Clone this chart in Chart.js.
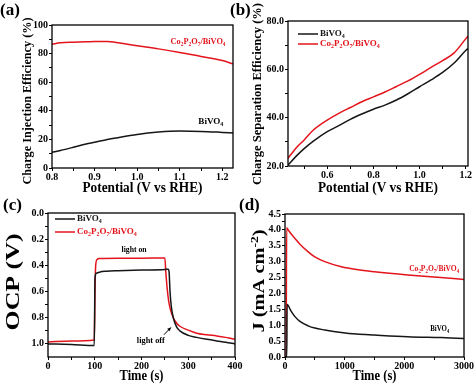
<!DOCTYPE html>
<html>
<head>
<meta charset="utf-8">
<script src="https://cdn.jsdelivr.net/npm/chart.js@4.4.0/dist/chart.umd.min.js"></script>
<style>
  html, body { margin: 0; padding: 0; background: #fff; }
  #wrap { position: relative; width: 474px; height: 385px; }
  #wrap canvas { position: absolute; left: 0; top: 0; }
</style>
</head>
<body>
<div id="wrap">
  <canvas id="pa" width="474" height="385"></canvas>
  <canvas id="pb" width="474" height="385"></canvas>
  <canvas id="pc" width="474" height="385"></canvas>
  <canvas id="pd" width="474" height="385"></canvas>
</div>
<script>
// (a) charge injection efficiency
const aPotential = [0.80, 0.82, 0.85, 0.88, 0.90, 0.93, 0.95, 1.00, 1.05, 1.10, 1.15, 1.20, 1.225];
const aBiVO4     = [11.0, 12.3, 14.5, 16.8, 18.0, 19.9, 21.0, 23.5, 25.1, 25.8, 25.6, 24.9, 24.5];
const aCoPO      = [86.5, 87.6, 88.0, 88.2, 88.5, 88.5, 87.8, 85.5, 83.3, 80.8, 78.0, 75.2, 72.8];
const aXMajor = [0.8, 0.9, 1.0, 1.1, 1.2], aXMinor = [0.85, 0.95, 1.05, 1.15];
const aYMajor = [0, 20, 40, 60, 80, 100], aYMinor = [10, 30, 50, 70, 90];

// (b) charge separation efficiency
const bPotential = [0.43, 0.47, 0.50, 0.54, 0.60, 0.65, 0.70, 0.75, 0.80, 0.85, 0.90, 0.95, 1.00, 1.05, 1.10, 1.15, 1.20, 1.21];
const bBiVO4     = [20.4, 24.5, 27.2, 30.3, 34.2, 36.7, 39.3, 41.5, 43.5, 45.2, 47.3, 49.9, 52.8, 55.6, 58.7, 62.6, 67.8, 68.6];
const bCoPO      = [23.2, 28.0, 30.8, 34.9, 39.0, 41.8, 44.2, 46.6, 48.6, 50.6, 52.9, 55.2, 57.9, 60.8, 63.6, 66.8, 72.6, 73.8];
const bXMajor = [0.6, 0.8, 1.0, 1.2], bXMinor = [0.5, 0.7, 0.9, 1.1];
const bYMajor = [20, 40, 60, 80], bYMinor = [30, 50, 70];

// (c) open circuit potential
const cTimeBi = [0, 50, 99, 100.5, 103, 110, 125, 150, 200, 250, 257, 259, 261, 264, 268, 275, 282, 300, 318, 340, 361, 380, 400];
const cBiVO4  = [1.0, 1.005, 1.012, 0.50, 0.462, 0.452, 0.445, 0.441, 0.436, 0.431, 0.429, 0.45, 0.60, 0.72, 0.80, 0.87, 0.90, 0.935, 0.95, 0.965, 0.977, 0.987, 1.0];
const cTimeCo = [0, 50, 99, 100.5, 102, 105, 110, 150, 200, 250, 252, 255, 258, 262, 268, 275, 282, 300, 318, 340, 361, 380, 396, 400];
const cCoPO   = [0.985, 0.978, 0.97, 0.60, 0.40, 0.355, 0.347, 0.345, 0.345, 0.344, 0.45, 0.58, 0.67, 0.74, 0.80, 0.84, 0.865, 0.895, 0.918, 0.93, 0.939, 0.95, 0.962, 0.963];
const cXMajor = [0, 100, 200, 300, 400], cXMinor = [50, 150, 250, 350];
const cYMajor = [0, 0.2, 0.4, 0.6, 0.8, 1.0], cYMinor = [0.1, 0.3, 0.5, 0.7, 0.9];

// (d) photocurrent stability
const dTimeBi = [0, 30, 35, 100, 167, 250, 389, 500, 667, 944, 1200, 1500, 2056, 2611, 3000];
const dBiVO4  = [0, 0, 1.65, 1.45, 1.27, 1.12, 0.98, 0.91, 0.85, 0.77, 0.72, 0.69, 0.64, 0.61, 0.585];
const dTimeCo = [0, 18, 28, 60, 100, 167, 250, 389, 500, 667, 944, 1200, 1500, 2056, 2611, 3000];
const dCoPO   = [0, 0, 4.07, 3.98, 3.88, 3.73, 3.55, 3.31, 3.15, 3.0, 2.84, 2.75, 2.68, 2.58, 2.50, 2.44];
const dXMajor = [0, 1000, 2000, 3000], dXMinor = [500, 1500, 2500];
const dYMajor = [0, 0.5, 1.0, 1.5, 2.0, 2.5, 3.0, 3.5, 4.0, 4.5], dYMinor = [0.25, 0.75, 1.25, 1.75, 2.25, 2.75, 3.25, 3.75, 4.25];

const RED = '#e3141c', BLK = '#161616';
const FONT = '"Liberation Serif", "Times New Roman", serif';
const CO = [['Co'], ['2', 'sub'], ['P'], ['2', 'sub'], ['O'], ['7', 'sub'], ['/BiVO'], ['4', 'sub']];
const BI = [['BiVO'], ['4', 'sub']];

function zip(xs, ys) { return xs.map((x, i) => ({ x, y: ys[i] })); }

// text with sub/superscripts, optionally squeezed to a width
function rich(ctx, parts, x, y, size, opt = {}) {
  const small = size * 0.66;
  ctx.save();
  ctx.translate(x, y);
  if (opt.rot) ctx.rotate(opt.rot);
  let w = 0;
  const ws = parts.map(([t, k]) => {
    ctx.font = `bold ${k ? small : size}px ${FONT}`;
    const m = ctx.measureText(t).width; w += m; return m;
  });
  if (opt.fit) ctx.scale(opt.fit / w, 1);
  let cx = opt.align === 'left' ? 0 : opt.align === 'right' ? -w : -w / 2;
  ctx.fillStyle = opt.color || '#000';
  ctx.textBaseline = 'middle';
  ctx.textAlign = 'left';
  parts.forEach(([t, k], i) => {
    ctx.font = `bold ${k ? small : size}px ${FONT}`;
    const dy = k === 'sub' ? size * 0.3 : k === 'sup' ? -size * 0.32 : 0;
    ctx.fillText(t, cx, dy);
    cx += ws[i];
  });
  ctx.restore();
}

const frame = {
  id: 'frame',
  afterDraw(chart) {
    const { ctx, chartArea: a } = chart;
    ctx.save();
    ctx.strokeStyle = '#000';
    ctx.lineWidth = 1.3;
    ctx.strokeRect(a.left, a.top, a.right - a.left, a.bottom - a.top);
    ctx.restore();
  }
};

function axis(s, dir, box) {
  return {
    type: 'linear', min: s.min, max: s.max, reverse: !!s.reverse,
    afterBuildTicks: sc => { sc.ticks = s.major.concat(s.minor).sort((p, q) => p - q).map(v => ({ value: v })); },
    afterFit: sc => { if (dir === 'y') sc.width = box.left; else sc.height = 20; },
    grid: { drawOnChartArea: false, drawTicks: true, tickLength: 3, tickColor: '#000', tickWidth: 1 },
    border: { display: false },
    ticks: {
      autoSkip: false, maxRotation: 0, padding: dir === 'y' ? 1 : 0, color: '#000',
      font: { family: FONT, size: 10, weight: 'bold' },
      callback: v => s.major.some(m => Math.abs(m - v) < 1e-9) ? s.fmt(v) : ''
    }
  };
}

function line(data, color) {
  return { data, borderColor: color, borderWidth: 1.5, pointRadius: 0, fill: false, cubicInterpolationMode: 'monotone' };
}

function panel(id, box, xs, ys, datasets, draw) {
  return new Chart(document.getElementById(id), {
    type: 'line',
    data: { datasets },
    options: {
      responsive: false, animation: false, events: [],
      layout: { padding: { left: 0, top: box.top, right: 474 - box.right, bottom: 385 - box.bottom - 20 } },
      plugins: { legend: { display: false }, tooltip: { enabled: false } },
      scales: { x: axis(xs, 'x', box), y: axis(ys, 'y', box) }
    },
    plugins: [frame, { id: 'notes', afterDraw: c => draw(c.ctx, c.chartArea, c.scales.x, c.scales.y) }]
  });
}

const UP = -Math.PI / 2;

panel('pa', { left: 52, right: 233, top: 25, bottom: 168 },
  { min: 0.8, max: 1.225, major: aXMajor, minor: aXMinor, fmt: v => v.toFixed(1) },
  { min: 0, max: 100, major: aYMajor, minor: aYMinor, fmt: v => String(v) },
  [line(zip(aPotential, aBiVO4), BLK), line(zip(aPotential, aCoPO), RED)],
  (ctx, a, x, y) => {
    rich(ctx, [['(a)']], 0, 11, 17, { align: 'left' });
    rich(ctx, [['Charge Injection Efficiency (%)']], 28, 101, 13, { rot: UP, fit: 167 });
    rich(ctx, [['Potential (V vs RHE)']], (a.left + a.right) / 2, 188, 15, { fit: 120 });
    rich(ctx, CO, x.getPixelForValue(1.143), y.getPixelForValue(88.3), 9, { color: RED, fit: 55 });
    rich(ctx, BI, x.getPixelForValue(1.173), y.getPixelForValue(32.4), 9, { fit: 25 });
  });

panel('pb', { left: 288, right: 468, top: 21, bottom: 166 },
  { min: 0.43, max: 1.21, major: bXMajor, minor: bXMinor, fmt: v => v.toFixed(1) },
  { min: 20, max: 80, major: bYMajor, minor: bYMinor, fmt: v => v.toFixed(1) },
  [line(zip(bPotential, bBiVO4), BLK), line(zip(bPotential, bCoPO), RED)],
  (ctx, a, x, y) => {
    rich(ctx, [['(b)']], 230, 11, 17, { align: 'left' });
    rich(ctx, [['Charge Separation Efficiency (%)']], 258, 94, 13, { rot: UP, fit: 182 });
    rich(ctx, [['Potential (V vs RHE)']], (a.left + a.right) / 2, 188, 15, { fit: 120 });
    [[BI, BLK, 13], [CO, RED, 23]].forEach(([t, c, dy]) => {
      ctx.save(); ctx.strokeStyle = c; ctx.lineWidth = 1.5;
      ctx.beginPath(); ctx.moveTo(a.left + 10, a.top + dy); ctx.lineTo(a.left + 30, a.top + dy); ctx.stroke();
      ctx.restore();
      rich(ctx, t, a.left + 32, a.top + dy, 9, { align: 'left', color: c });
    });
  });

panel('pc', { left: 48, right: 235, top: 213, bottom: 357 },
  { min: 0, max: 400, major: cXMajor, minor: cXMinor, fmt: v => String(v) },
  { min: 0, max: 1.1, reverse: true, major: cYMajor, minor: cYMinor, fmt: v => v.toFixed(1) },
  [line(zip(cTimeBi, cBiVO4), BLK), line(zip(cTimeCo, cCoPO), RED)],
  (ctx, a, x, y) => {
    rich(ctx, [['(c)']], 3, 206, 17, { align: 'left' });
    rich(ctx, [['OCP (V)']], 14, 282, 18, { rot: UP, fit: 97 });
    rich(ctx, [['Time (s)']], (a.left + a.right) / 2, 376, 14, { fit: 44 });
    [[BI, BLK, 6], [CO, RED, 19]].forEach(([t, c, dy]) => {
      ctx.save(); ctx.strokeStyle = c; ctx.lineWidth = 1.5;
      ctx.beginPath(); ctx.moveTo(a.left + 7, a.top + dy); ctx.lineTo(a.left + 27, a.top + dy); ctx.stroke();
      ctx.restore();
      rich(ctx, t, a.left + 29, a.top + dy, 9, { align: 'left', color: c });
    });
    rich(ctx, [['light on']], x.getPixelForValue(184), y.getPixelForValue(0.282), 9, { fit: 25 });
    rich(ctx, [['light off']], x.getPixelForValue(220), y.getPixelForValue(0.977), 9, { fit: 28 });
    const x0 = x.getPixelForValue(248), y0 = y.getPixelForValue(0.93);
    const x1 = x.getPixelForValue(263), y1 = y.getPixelForValue(0.874);
    ctx.save(); ctx.strokeStyle = '#000'; ctx.fillStyle = '#000'; ctx.lineWidth = 1;
    ctx.beginPath(); ctx.moveTo(x0, y0); ctx.lineTo(x1, y1); ctx.stroke();
    const ang = Math.atan2(y1 - y0, x1 - x0);
    ctx.beginPath(); ctx.moveTo(x1, y1);
    ctx.lineTo(x1 - 4 * Math.cos(ang - 0.45), y1 - 4 * Math.sin(ang - 0.45));
    ctx.lineTo(x1 - 4 * Math.cos(ang + 0.45), y1 - 4 * Math.sin(ang + 0.45));
    ctx.closePath(); ctx.fill();
    ctx.restore();
  });

panel('pd', { left: 285, right: 465, top: 214, bottom: 357 },
  { min: 0, max: 3000, major: dXMajor, minor: dXMinor, fmt: v => String(v) },
  { min: 0, max: 4.5, major: dYMajor, minor: dYMinor, fmt: v => v.toFixed(1) },
  [line(zip(dTimeBi, dBiVO4), BLK), line(zip(dTimeCo, dCoPO), RED)],
  (ctx, a, x, y) => {
    rich(ctx, [['(d)']], 239, 206, 17, { align: 'left' });
    rich(ctx, [['J (mA cm'], ['-2', 'sup'], [')']], 260, 281, 16, { rot: UP, fit: 103 });
    rich(ctx, [['Time (s)']], (a.left + a.right) / 2, 376, 14, { fit: 44 });
    rich(ctx, CO, x.getPixelForValue(2500), y.getPixelForValue(2.78), 9, { color: RED, fit: 50 });
    rich(ctx, BI, x.getPixelForValue(2592), y.getPixelForValue(0.89), 9, { fit: 19 });
  });
</script>
</body>
</html>
